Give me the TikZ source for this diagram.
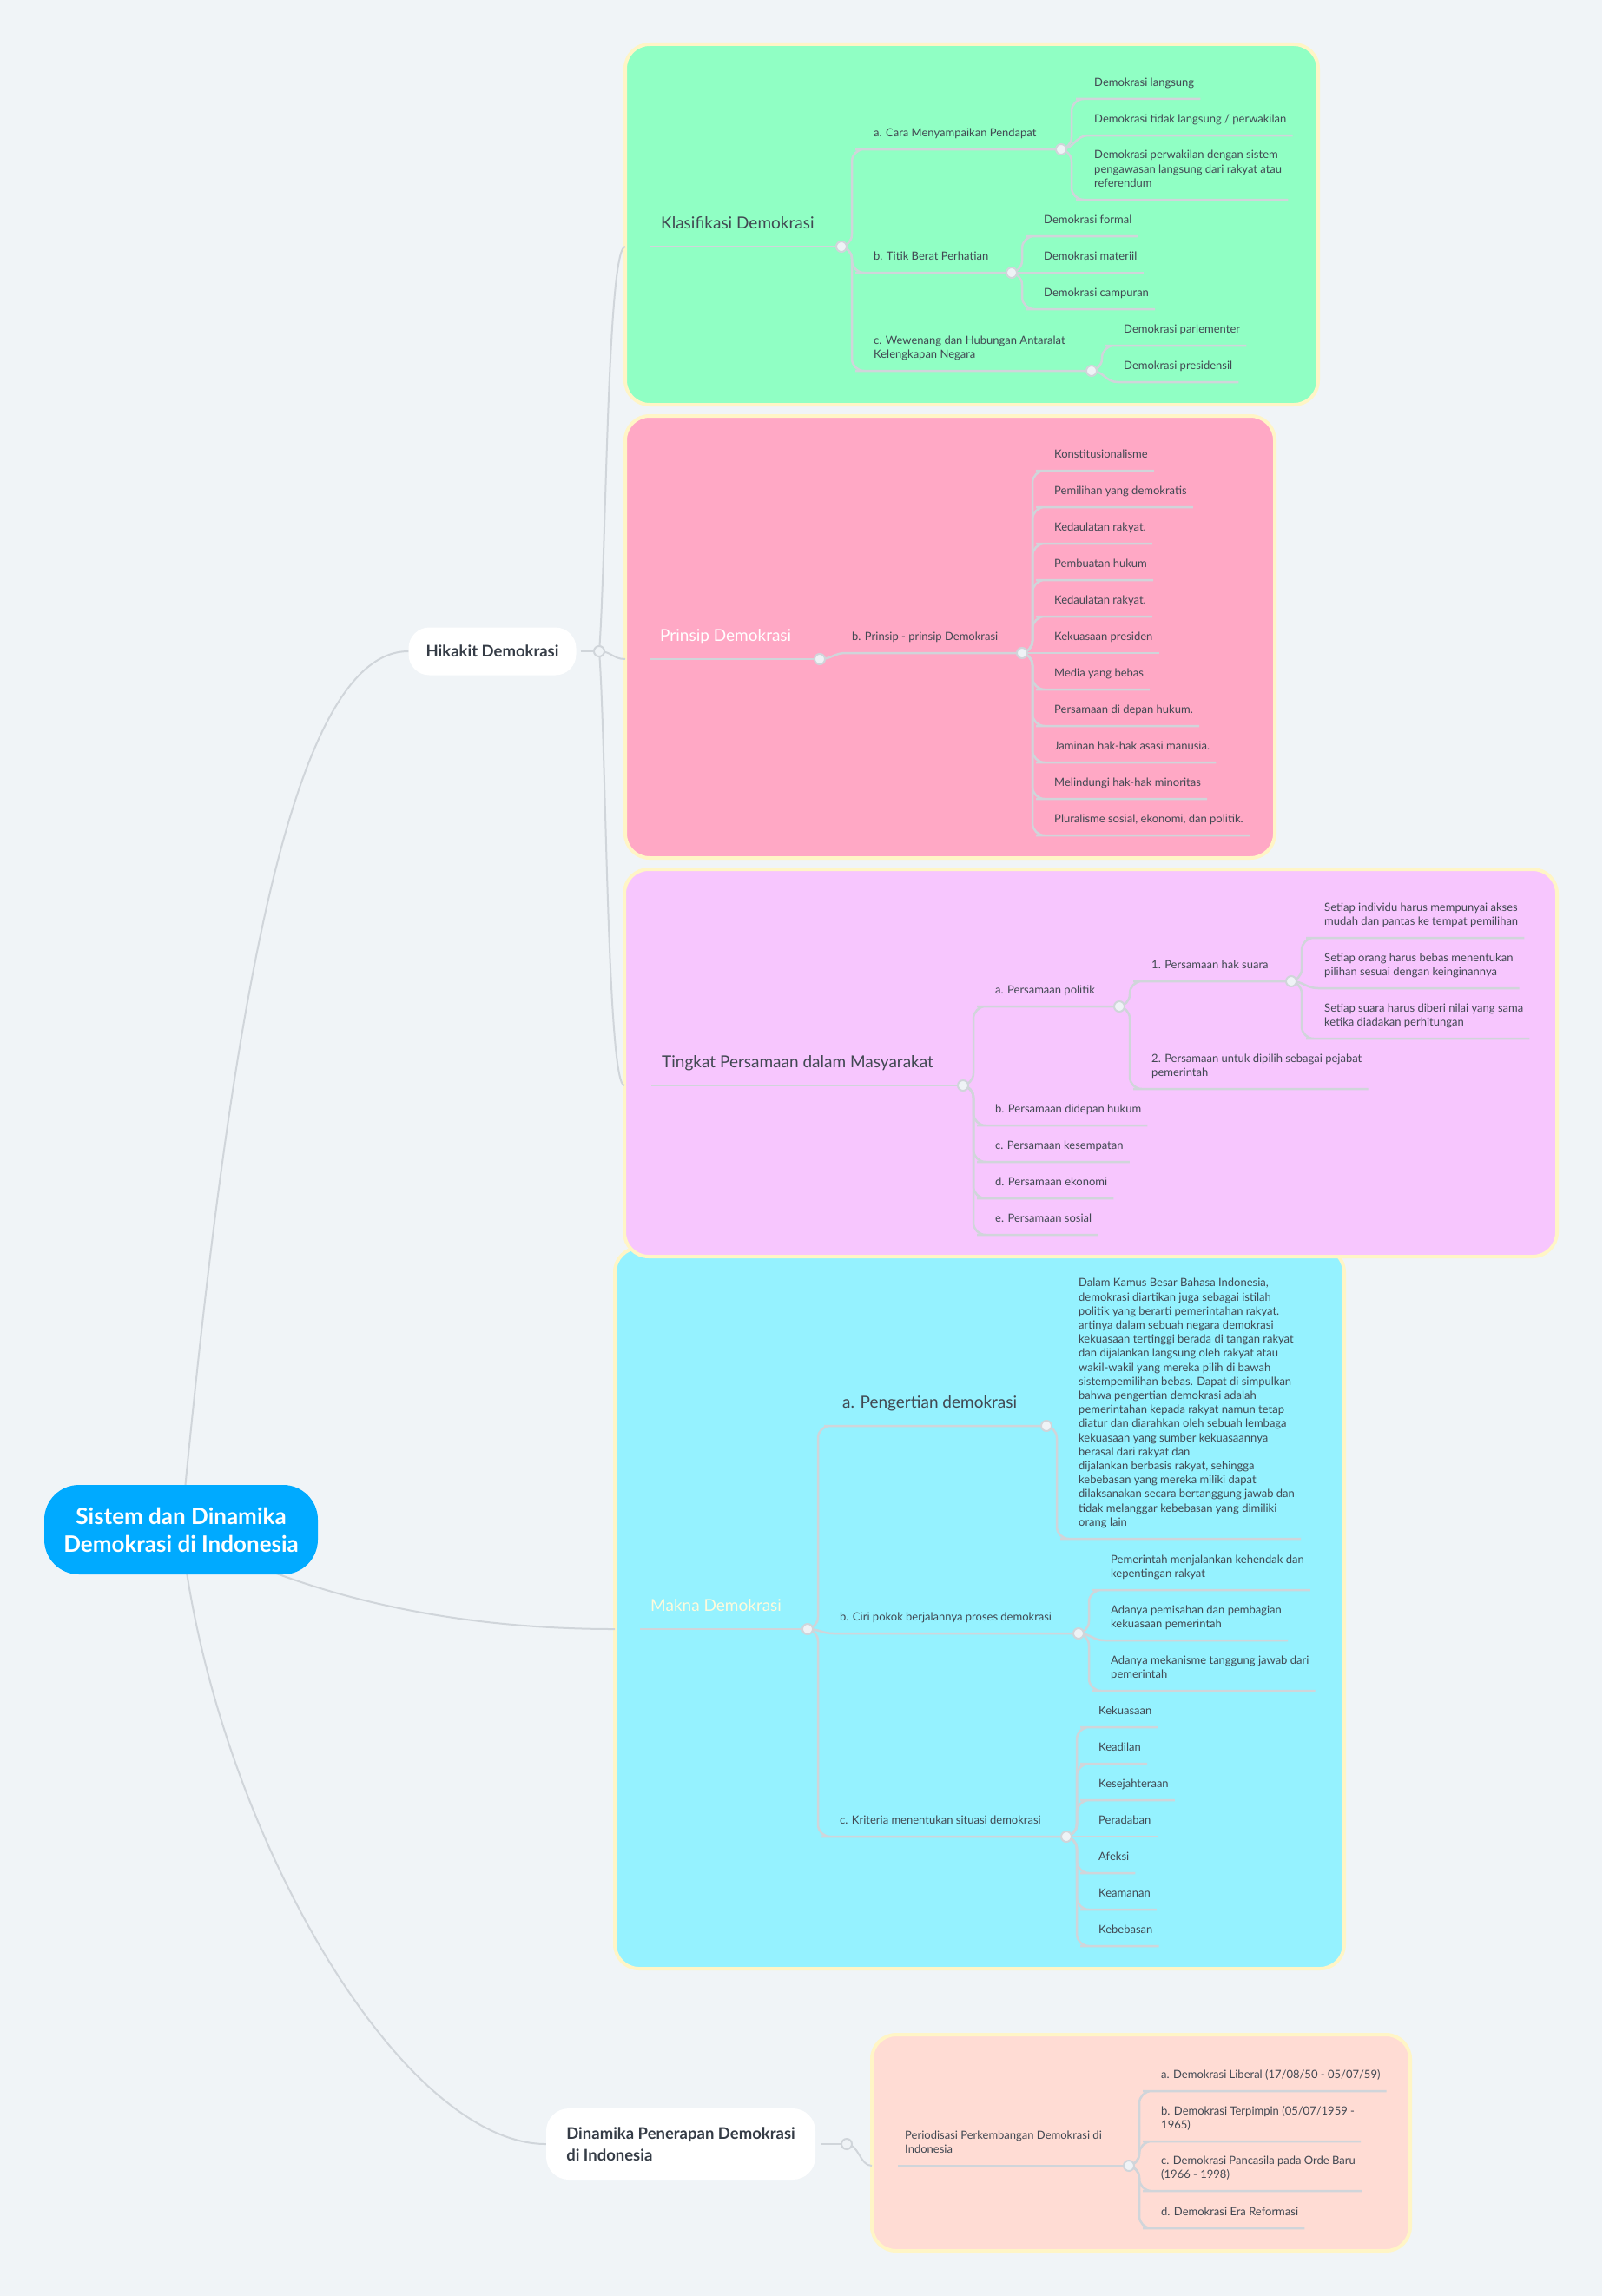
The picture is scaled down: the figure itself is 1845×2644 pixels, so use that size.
\documentclass[tikz,border=0pt]{standalone}
\usepackage{fontspec}
\setmainfont{Lato}
\usepackage{tikz}
\usetikzlibrary{positioning,calc}

\definecolor{bgC}{HTML}{F0F4F7}
\definecolor{lineC}{HTML}{D0D5DA}
\definecolor{dotC}{HTML}{EFF3F6}
\definecolor{txtC}{HTML}{414852}
\definecolor{darkC}{HTML}{353C46}
\definecolor{rimC}{HTML}{FFF5C6}
\definecolor{rootC}{HTML}{00AAFF}
\definecolor{greenC}{HTML}{90FFC4}
\definecolor{pinkC}{HTML}{FFA8C5}
\definecolor{lilacC}{HTML}{F7C6FE}
\definecolor{cyanC}{HTML}{95F2FF}
\definecolor{peachC}{HTML}{FFDCD4}
\definecolor{makC}{HTML}{FFFBDC}

\begin{document}
\begin{tikzpicture}[x=1pt, y=-1pt,
    link/.style={draw=lineC, line width=2.5pt},
    wire/.style={draw=lineC, line width=2pt},
    elbow/.style={rounded corners=14pt, to path={-- ++(12,0) |- (\tikztotarget)}},
    swing/.style={to path={.. controls +(14,0) and +(-14,0) .. (\tikztotarget)}},
    direct/.style={to path={-- (\tikztotarget)}},
    panel/.style={draw=rimC, line width=4pt, rounded corners=28pt, inner sep=0pt, outer sep=0pt},
    leaf/.style={anchor=south west, align=left, inner xsep=7pt, inner ysep=9.6pt, text=txtC,
        font=\fontsize{13}{16.2}\selectfont, execute at end node=\strut},
    head/.style={anchor=south west, inner xsep=12pt, inner ysep=13pt, text=txtC,
        font=\fontsize{19}{23}\selectfont, execute at end node=\strut},
    dot/.style={circle, draw=lineC, fill=dotC, line width=2pt, minimum size=12pt, inner sep=0pt},
    pill/.style={fill=white, text=darkC, font=\bfseries\fontsize{18.5}{25}\selectfont},
    root/.style={fill=rootC, text=white, rounded corners=40pt, minimum width=315pt, minimum height=103pt,
        align=center, font=\bfseries\fontsize{26}{32}\selectfont}
]
    \useasboundingbox (0,0) rectangle (1845,2644);
    \fill[bgC] (0,0) rectangle (1845,2644);

    % Panels (cyan first, the lilac one overlaps it)
    \node[panel, fill=greenC, minimum width=798pt, minimum height=415pt] (pGreen) at (1119,258.5) {};
    \node[panel, fill=pinkC, minimum width=748pt, minimum height=509pt] (pPink) at (1094,733.5) {};
    \node[panel, fill=cyanC, minimum width=840pt, minimum height=830pt] (pCyan) at (1128,1852) {};
    \node[panel, fill=lilacC, minimum width=1074pt, minimum height=446pt] (pLilac) at (1256,1224) {};
    \node[panel, fill=peachC, minimum width=620pt, minimum height=249pt] (pPeach) at (1314,2467.5) {};

    % Fork points
    \coordinate (rootc) at (208.5,1761.5);
    \coordinate (hikc) at (690,750);
    \coordinate (dinc) at (975,2469);
    \coordinate (kdc) at (969,284);
    \coordinate (gac) at (1222,172);
    \coordinate (gbc) at (1165,314);
    \coordinate (gcc) at (1257,427);
    \coordinate (pdc) at (944,759);
    \coordinate (pbc) at (1177,752);
    \coordinate (tpc) at (1109,1250);
    \coordinate (tac) at (1289,1159);
    \coordinate (t1c) at (1487,1130);
    \coordinate (mdc) at (930,1876);
    \coordinate (mac) at (1205,1642);
    \coordinate (mbc) at (1242,1881);
    \coordinate (mcc) at (1228,2115);
    \coordinate (pec) at (1300,2494);

    % Main branches
    \node[pill, rounded corners=24pt, minimum width=193pt, minimum height=55pt] (hik) at (567,750) {Hikakit Demokrasi};
    \node[pill, rounded corners=26pt, minimum width=310pt, minimum height=82pt, align=left] (din) at (784,2469) {Dinamika Penerapan Demokrasi\\di Indonesia};

    \draw[wire] (rootc) .. controls (262,1200) and (330,750) .. (hik.west);
    \draw[wire] (rootc) .. controls (330,1830) and (500,1876) .. (pCyan.west |- mdc);
    \draw[wire] (rootc) .. controls (245,2100) and (460,2469) .. (din.west);
    \draw[wire, shorten <=5pt] (hik.east) -- (hikc);
    \draw[wire] (hikc) .. controls (698,650) and (699,284) .. (pGreen.west |- kdc);
    \draw[wire] (hikc) to[swing] (pPink.west |- pdc);
    \draw[wire] (hikc) .. controls (698,850) and (699,1250) .. (pLilac.west |- tpc);
    \draw[wire, shorten <=6pt] (din.east) -- (dinc);
    \draw[wire] (dinc) to[swing] (pPeach.west |- pec);

    % Klasifikasi Demokrasi
    \node[head] (kd) at (749,284) {Klasifikasi Demokrasi};
    \draw[link] (kd.south west) -- (kdc);
    \node[leaf] (ga) at (999,172) {a. Cara Menyampaikan Pendapat};
    \node[leaf] (gb) at (999,314) {b. Titik Berat Perhatian};
    \node[leaf] (gc) at (999,427) {c. Wewenang dan Hubungan Antaralat\\Kelengkapan Negara};
    \foreach \n/\c in {ga/gac, gb/gbc, gc/gcc}
        \draw[link] (kdc) to[elbow] (\n.south west) -- (\c);

    \node[leaf] (ga1) at (1253,114) {Demokrasi langsung};
    \node[leaf] (ga2) at (1253,156) {Demokrasi tidak langsung / perwakilan};
    \node[leaf] (ga3) at (1253,230) {Demokrasi perwakilan dengan sistem\\pengawasan langsung dari rakyat atau\\referendum};
    \foreach \n/\s in {ga1/elbow, ga2/swing, ga3/elbow}
        \draw[link] (gac) to[\s] (\n.south west) -- (\n.south east);

    \node[leaf] (gb1) at (1195,272) {Demokrasi formal};
    \node[leaf] (gb2) at (1195,314) {Demokrasi materiil};
    \node[leaf] (gb3) at (1195,356) {Demokrasi campuran};
    \foreach \n/\s in {gb1/elbow, gb2/direct, gb3/elbow}
        \draw[link] (gbc) to[\s] (\n.south west) -- (\n.south east);

    \node[leaf] (gc1) at (1287,398) {Demokrasi parlementer};
    \node[leaf] (gc2) at (1287,440) {Demokrasi presidensil};
    \foreach \n/\s in {gc1/elbow, gc2/swing}
        \draw[link] (gcc) to[\s] (\n.south west) -- (\n.south east);

    % Prinsip Demokrasi
    \node[head, text=white] (pd) at (748,759) {Prinsip Demokrasi};
    \draw[link] (pd.south west) -- (pdc);
    \node[leaf] (pb) at (974,752) {b. Prinsip - prinsip Demokrasi};
    \draw[link] (pdc) to[swing] (pb.south west) -- (pbc);
    \foreach \t/\s [count=\i] in {Konstitusionalisme/elbow, Pemilihan yang demokratis/elbow,
        Kedaulatan rakyat./elbow, Pembuatan hukum/elbow, Kedaulatan rakyat./elbow,
        Kekuasaan presiden/direct, Media yang bebas/elbow, Persamaan di depan hukum./elbow,
        Jaminan hak-hak asasi manusia./elbow, Melindungi hak-hak minoritas/elbow,
        {Pluralisme sosial, ekonomi, dan politik.}/elbow}{
        \node[leaf] (pr\i) at (1207,500+42*\i) {\t};
        \draw[link] (pbc) to[\s] (pr\i.south west) -- (pr\i.south east);
    }

    % Tingkat Persamaan dalam Masyarakat
    \node[head] (tp) at (750,1250) {Tingkat Persamaan dalam Masyarakat};
    \draw[link] (tp.south west) -- (tpc);
    \node[leaf] (ta) at (1139,1159) {a. Persamaan politik};
    \draw[link] (tpc) to[elbow] (ta.south west) -- (tac);
    \foreach \t [count=\i] in {b. Persamaan didepan hukum, c. Persamaan kesempatan,
        d. Persamaan ekonomi, e. Persamaan sosial}{
        \node[leaf] (tb\i) at (1139,1254+42*\i) {\t};
        \draw[link] (tpc) to[elbow] (tb\i.south west) -- (tb\i.south east);
    }
    \node[leaf] (t1) at (1319,1130) {1. Persamaan hak suara};
    \node[leaf] (t2) at (1319,1254) {2. Persamaan untuk dipilih sebagai pejabat\\pemerintah};
    \draw[link] (tac) to[elbow] (t1.south west) -- (t1c);
    \draw[link] (tac) to[elbow] (t2.south west) -- (t2.south east);
    \node[leaf] (s1) at (1518,1080) {Setiap individu harus mempunyai akses\\mudah dan pantas ke tempat pemilihan};
    \node[leaf] (s2) at (1518,1138) {Setiap orang harus bebas menentukan\\pilihan sesuai dengan keinginannya};
    \node[leaf] (s3) at (1518,1196) {Setiap suara harus diberi nilai yang sama\\ketika diadakan perhitungan};
    \foreach \n/\s in {s1/elbow, s2/swing, s3/elbow}
        \draw[link] (t1c) to[\s] (\n.south west) -- (\n.south east);

    % Makna Demokrasi
    \node[head, text=makC] (md) at (737,1876) {Makna Demokrasi};
    \draw[link] (md.south west) -- (mdc);
    \node[head, inner xsep=7pt] (ma) at (963,1642) {a. Pengertian demokrasi};
    \node[leaf] (mb) at (960,1881) {b. Ciri pokok berjalannya proses demokrasi};
    \node[leaf] (mc) at (960,2115) {c. Kriteria menentukan situasi demokrasi};
    \draw[link] (mdc) to[elbow] (ma.south west) -- (mac);
    \draw[link] (mdc) to[swing] (mb.south west) -- (mbc);
    \draw[link] (mdc) to[elbow] (mc.south west) -- (mcc);

    \node[leaf] (mp) at (1235,1772) {Dalam Kamus Besar Bahasa Indonesia,\\demokrasi diartikan juga sebagai istilah\\politik yang berarti pemerintahan rakyat.\\artinya dalam sebuah negara demokrasi\\kekuasaan tertinggi berada di tangan rakyat\\dan dijalankan langsung oleh rakyat atau\\wakil-wakil yang mereka pilih di bawah\\sistempemilihan bebas. Dapat di simpulkan\\bahwa pengertian demokrasi adalah\\pemerintahan kepada rakyat namun tetap\\diatur dan diarahkan oleh sebuah lembaga\\kekuasaan yang sumber kekuasaannya\\berasal dari rakyat dan\\dijalankan berbasis rakyat, sehingga\\kebebasan yang mereka miliki dapat\\dilaksanakan secara bertanggung jawab dan\\tidak melanggar kebebasan yang dimiliki\\orang lain};
    \draw[link] (mac) to[elbow] (mp.south west) -- (mp.south east);

    \node[leaf] (mb1) at (1272,1831) {Pemerintah menjalankan kehendak dan\\kepentingan rakyat};
    \node[leaf] (mb2) at (1272,1889) {Adanya pemisahan dan pembagian\\kekuasaan pemerintah};
    \node[leaf] (mb3) at (1272,1947) {Adanya mekanisme tanggung jawab dari\\pemerintah};
    \foreach \n/\s in {mb1/elbow, mb2/swing, mb3/elbow}
        \draw[link] (mbc) to[\s] (\n.south west) -- (\n.south east);

    \foreach \t/\s [count=\i] in {Kekuasaan/elbow, Keadilan/elbow, Kesejahteraan/elbow,
        Peradaban/direct, Afeksi/elbow, Keamanan/elbow, Kebebasan/elbow}{
        \node[leaf] (mk\i) at (1258,1947+42*\i) {\t};
        \draw[link] (mcc) to[\s] (mk\i.south west) -- (mk\i.south east);
    }

    % Periodisasi
    \node[leaf, inner xsep=8pt] (pe) at (1034,2494) {Periodisasi Perkembangan Demokrasi di\\Indonesia};
    \draw[link] (pe.south west) -- (pec);
    \node[leaf] (pe1) at (1330,2408) {a. Demokrasi Liberal (17/08/50 - 05/07/59)};
    \node[leaf] (pe2) at (1330,2466) {b. Demokrasi Terpimpin (05/07/1959 -\\1965)};
    \node[leaf] (pe3) at (1330,2523) {c. Demokrasi Pancasila pada Orde Baru\\(1966 - 1998)};
    \node[leaf] (pe4) at (1330,2566) {d. Demokrasi Era Reformasi};
    \foreach \n in {pe1, pe2, pe3, pe4}
        \draw[link] (pec) to[elbow] (\n.south west) -- (\n.south east);

    % Central topic and fork dots on top
    \node[root] (root) at (rootc) {Sistem dan Dinamika\\Demokrasi di Indonesia};
    \foreach \c in {hikc, dinc, kdc, gac, gbc, gcc, pdc, pbc, tpc, tac, t1c, mdc, mac, mbc, mcc, pec}
        \node[dot] (\c-o) at (\c) {};
\end{tikzpicture}
\end{document}
